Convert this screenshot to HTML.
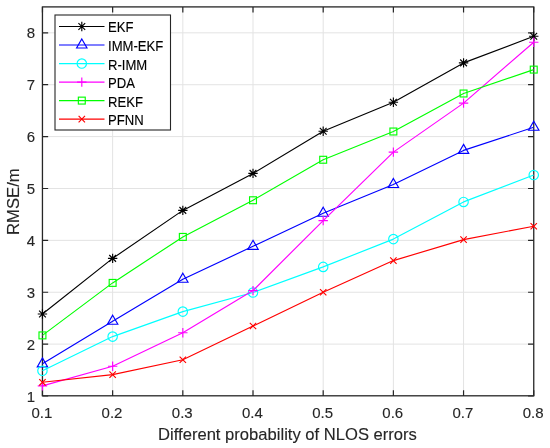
<!DOCTYPE html>
<html><head><meta charset="utf-8"><title>RMSE vs NLOS probability</title>
<style>
html,body{margin:0;padding:0;background:#fff;}
body{width:550px;height:448px;overflow:hidden;}
svg{display:block;}
text{font-family:"Liberation Sans",Arial,Helvetica,sans-serif;fill:#262626;stroke:#262626;stroke-width:0.12px;}
</style></head><body>
<svg width="550" height="448" viewBox="0 0 550 448">
<rect x="0" y="0" width="550" height="448" fill="#fff"/>

<path d="M112.64,6.9V396.0M182.82,6.9V396.0M253.01,6.9V396.0M323.19,6.9V396.0M393.38,6.9V396.0M463.56,6.9V396.0M42.45,344.12H533.75M42.45,292.24H533.75M42.45,240.36H533.75M42.45,188.48H533.75M42.45,136.60H533.75M42.45,84.72H533.75M42.45,32.84H533.75" stroke="#e3e3e3" stroke-width="1" fill="none"/>
<path d="M42.45,396.0V390.3M42.45,6.9V12.600000000000001M112.64,396.0V390.3M112.64,6.9V12.600000000000001M182.82,396.0V390.3M182.82,6.9V12.600000000000001M253.01,396.0V390.3M253.01,6.9V12.600000000000001M323.19,396.0V390.3M323.19,6.9V12.600000000000001M393.38,396.0V390.3M393.38,6.9V12.600000000000001M463.56,396.0V390.3M463.56,6.9V12.600000000000001M533.75,396.0V390.3M533.75,6.9V12.600000000000001M42.45,396.00H48.150000000000006M533.75,396.00H528.05M42.45,344.12H48.150000000000006M533.75,344.12H528.05M42.45,292.24H48.150000000000006M533.75,292.24H528.05M42.45,240.36H48.150000000000006M533.75,240.36H528.05M42.45,188.48H48.150000000000006M533.75,188.48H528.05M42.45,136.60H48.150000000000006M533.75,136.60H528.05M42.45,84.72H48.150000000000006M533.75,84.72H528.05M42.45,32.84H48.150000000000006M533.75,32.84H528.05" stroke="#262626" stroke-width="1.2" fill="none"/>
<rect x="42.45" y="6.9" width="491.3" height="388.90000000000003" stroke="#262626" stroke-width="1.3" fill="none"/>
<polyline points="42.45,314.00 112.64,258.40 182.82,210.40 253.01,173.40 323.19,131.25 393.38,102.25 463.56,62.90 533.75,36.25" stroke="#000000" stroke-width="1.15" fill="none" stroke-linejoin="round"/>
<path d="M37.75,314.00H47.15M42.45,309.30V318.70M39.07,310.62L45.83,317.38M39.07,317.38L45.83,310.62" stroke="#000000" stroke-width="1.15" fill="none"/>
<path d="M107.94,258.40H117.34M112.64,253.70V263.10M109.25,255.02L116.02,261.78M109.25,261.78L116.02,255.02" stroke="#000000" stroke-width="1.15" fill="none"/>
<path d="M178.12,210.40H187.52M182.82,205.70V215.10M179.44,207.02L186.21,213.78M179.44,213.78L186.21,207.02" stroke="#000000" stroke-width="1.15" fill="none"/>
<path d="M248.31,173.40H257.71M253.01,168.70V178.10M249.62,170.02L256.39,176.78M249.62,176.78L256.39,170.02" stroke="#000000" stroke-width="1.15" fill="none"/>
<path d="M318.49,131.25H327.89M323.19,126.55V135.95M319.81,127.87L326.58,134.63M319.81,134.63L326.58,127.87" stroke="#000000" stroke-width="1.15" fill="none"/>
<path d="M388.68,102.25H398.08M393.38,97.55V106.95M389.99,98.87L396.76,105.63M389.99,105.63L396.76,98.87" stroke="#000000" stroke-width="1.15" fill="none"/>
<path d="M458.86,62.90H468.26M463.56,58.20V67.60M460.18,59.52L466.95,66.28M460.18,66.28L466.95,59.52" stroke="#000000" stroke-width="1.15" fill="none"/>
<path d="M529.05,36.25H538.45M533.75,31.55V40.95M530.37,32.87L537.13,39.63M530.37,39.63L537.13,32.87" stroke="#000000" stroke-width="1.15" fill="none"/>
<polyline points="42.45,363.85 112.64,321.20 182.82,279.20 253.01,246.30 323.19,213.20 393.38,184.50 463.56,150.40 533.75,127.25" stroke="#0000ff" stroke-width="1.15" fill="none" stroke-linejoin="round"/>
<path d="M42.45,357.85L47.65,366.85L37.25,366.85Z" stroke="#0000ff" stroke-width="1.15" fill="none" stroke-linejoin="miter"/>
<path d="M112.64,315.20L117.83,324.20L107.44,324.20Z" stroke="#0000ff" stroke-width="1.15" fill="none" stroke-linejoin="miter"/>
<path d="M182.82,273.20L188.02,282.20L177.63,282.20Z" stroke="#0000ff" stroke-width="1.15" fill="none" stroke-linejoin="miter"/>
<path d="M253.01,240.30L258.20,249.30L247.81,249.30Z" stroke="#0000ff" stroke-width="1.15" fill="none" stroke-linejoin="miter"/>
<path d="M323.19,207.20L328.39,216.20L318.00,216.20Z" stroke="#0000ff" stroke-width="1.15" fill="none" stroke-linejoin="miter"/>
<path d="M393.38,178.50L398.57,187.50L388.18,187.50Z" stroke="#0000ff" stroke-width="1.15" fill="none" stroke-linejoin="miter"/>
<path d="M463.56,144.40L468.76,153.40L458.37,153.40Z" stroke="#0000ff" stroke-width="1.15" fill="none" stroke-linejoin="miter"/>
<path d="M533.75,121.25L538.95,130.25L528.55,130.25Z" stroke="#0000ff" stroke-width="1.15" fill="none" stroke-linejoin="miter"/>
<polyline points="42.45,370.80 112.64,336.60 182.82,311.60 253.01,292.50 323.19,266.90 393.38,239.10 463.56,201.90 533.75,175.00" stroke="#00ffff" stroke-width="1.15" fill="none" stroke-linejoin="round"/>
<circle cx="42.45" cy="370.80" r="4.7" stroke="#00ffff" stroke-width="1.15" fill="none"/>
<circle cx="112.64" cy="336.60" r="4.7" stroke="#00ffff" stroke-width="1.15" fill="none"/>
<circle cx="182.82" cy="311.60" r="4.7" stroke="#00ffff" stroke-width="1.15" fill="none"/>
<circle cx="253.01" cy="292.50" r="4.7" stroke="#00ffff" stroke-width="1.15" fill="none"/>
<circle cx="323.19" cy="266.90" r="4.7" stroke="#00ffff" stroke-width="1.15" fill="none"/>
<circle cx="393.38" cy="239.10" r="4.7" stroke="#00ffff" stroke-width="1.15" fill="none"/>
<circle cx="463.56" cy="201.90" r="4.7" stroke="#00ffff" stroke-width="1.15" fill="none"/>
<circle cx="533.75" cy="175.00" r="4.7" stroke="#00ffff" stroke-width="1.15" fill="none"/>
<polyline points="42.45,385.90 112.64,366.25 182.82,332.75 253.01,290.60 323.19,220.60 393.38,152.10 463.56,103.10 533.75,42.25" stroke="#ff00ff" stroke-width="1.15" fill="none" stroke-linejoin="round"/>
<path d="M37.75,385.90H47.15M42.45,381.20V390.60" stroke="#ff00ff" stroke-width="1.15" fill="none"/>
<path d="M107.94,366.25H117.34M112.64,361.55V370.95" stroke="#ff00ff" stroke-width="1.15" fill="none"/>
<path d="M178.12,332.75H187.52M182.82,328.05V337.45" stroke="#ff00ff" stroke-width="1.15" fill="none"/>
<path d="M248.31,290.60H257.71M253.01,285.90V295.30" stroke="#ff00ff" stroke-width="1.15" fill="none"/>
<path d="M318.49,220.60H327.89M323.19,215.90V225.30" stroke="#ff00ff" stroke-width="1.15" fill="none"/>
<path d="M388.68,152.10H398.08M393.38,147.40V156.80" stroke="#ff00ff" stroke-width="1.15" fill="none"/>
<path d="M458.86,103.10H468.26M463.56,98.40V107.80" stroke="#ff00ff" stroke-width="1.15" fill="none"/>
<path d="M529.05,42.25H538.45M533.75,37.55V46.95" stroke="#ff00ff" stroke-width="1.15" fill="none"/>
<polyline points="42.45,335.40 112.64,282.90 182.82,236.90 253.01,200.25 323.19,159.75 393.38,131.50 463.56,93.50 533.75,69.60" stroke="#00ff00" stroke-width="1.15" fill="none" stroke-linejoin="round"/>
<rect x="39.00" y="331.95" width="6.90" height="6.90" stroke="#00ff00" stroke-width="1.15" fill="none"/>
<rect x="109.19" y="279.45" width="6.90" height="6.90" stroke="#00ff00" stroke-width="1.15" fill="none"/>
<rect x="179.37" y="233.45" width="6.90" height="6.90" stroke="#00ff00" stroke-width="1.15" fill="none"/>
<rect x="249.56" y="196.80" width="6.90" height="6.90" stroke="#00ff00" stroke-width="1.15" fill="none"/>
<rect x="319.74" y="156.30" width="6.90" height="6.90" stroke="#00ff00" stroke-width="1.15" fill="none"/>
<rect x="389.93" y="128.05" width="6.90" height="6.90" stroke="#00ff00" stroke-width="1.15" fill="none"/>
<rect x="460.11" y="90.05" width="6.90" height="6.90" stroke="#00ff00" stroke-width="1.15" fill="none"/>
<rect x="530.30" y="66.15" width="6.90" height="6.90" stroke="#00ff00" stroke-width="1.15" fill="none"/>
<polyline points="42.45,382.30 112.64,374.60 182.82,359.75 253.01,326.00 323.19,292.25 393.38,260.60 463.56,239.60 533.75,226.25" stroke="#ff0000" stroke-width="1.15" fill="none" stroke-linejoin="round"/>
<path d="M39.25,379.10L45.65,385.50M39.25,385.50L45.65,379.10" stroke="#ff0000" stroke-width="1.15" fill="none"/>
<path d="M109.44,371.40L115.84,377.80M109.44,377.80L115.84,371.40" stroke="#ff0000" stroke-width="1.15" fill="none"/>
<path d="M179.62,356.55L186.02,362.95M179.62,362.95L186.02,356.55" stroke="#ff0000" stroke-width="1.15" fill="none"/>
<path d="M249.81,322.80L256.21,329.20M249.81,329.20L256.21,322.80" stroke="#ff0000" stroke-width="1.15" fill="none"/>
<path d="M319.99,289.05L326.39,295.45M319.99,295.45L326.39,289.05" stroke="#ff0000" stroke-width="1.15" fill="none"/>
<path d="M390.18,257.40L396.58,263.80M390.18,263.80L396.58,257.40" stroke="#ff0000" stroke-width="1.15" fill="none"/>
<path d="M460.36,236.40L466.76,242.80M460.36,242.80L466.76,236.40" stroke="#ff0000" stroke-width="1.15" fill="none"/>
<path d="M530.55,223.05L536.95,229.45M530.55,229.45L536.95,223.05" stroke="#ff0000" stroke-width="1.15" fill="none"/>
<text transform="translate(41.85,417.8) scale(1,1.02)" font-size="15" text-anchor="middle">0.1</text>
<text transform="translate(112.04,417.8) scale(1,1.02)" font-size="15" text-anchor="middle">0.2</text>
<text transform="translate(182.22,417.8) scale(1,1.02)" font-size="15" text-anchor="middle">0.3</text>
<text transform="translate(252.41,417.8) scale(1,1.02)" font-size="15" text-anchor="middle">0.4</text>
<text transform="translate(322.59,417.8) scale(1,1.02)" font-size="15" text-anchor="middle">0.5</text>
<text transform="translate(392.78,417.8) scale(1,1.02)" font-size="15" text-anchor="middle">0.6</text>
<text transform="translate(462.96,417.8) scale(1,1.02)" font-size="15" text-anchor="middle">0.7</text>
<text transform="translate(533.15,417.8) scale(1,1.02)" font-size="15" text-anchor="middle">0.8</text>
<text transform="translate(35,401.60) scale(1,1.02)" font-size="15" text-anchor="end">1</text>
<text transform="translate(35,349.72) scale(1,1.02)" font-size="15" text-anchor="end">2</text>
<text transform="translate(35,297.84) scale(1,1.02)" font-size="15" text-anchor="end">3</text>
<text transform="translate(35,245.96) scale(1,1.02)" font-size="15" text-anchor="end">4</text>
<text transform="translate(35,194.08) scale(1,1.02)" font-size="15" text-anchor="end">5</text>
<text transform="translate(35,142.20) scale(1,1.02)" font-size="15" text-anchor="end">6</text>
<text transform="translate(35,90.32) scale(1,1.02)" font-size="15" text-anchor="end">7</text>
<text transform="translate(35,38.44) scale(1,1.02)" font-size="15" text-anchor="end">8</text>
<text x="287.5" y="440" font-size="16.6" text-anchor="middle">Different probability of NLOS errors</text>
<text transform="translate(18.6,201.6) rotate(-90)" font-size="16.7" text-anchor="middle">RMSE/m</text>
<rect x="55" y="15" width="115.5" height="115" fill="#fff" stroke="#262626" stroke-width="1.1"/>
<path d="M59,26.5H104.5" stroke="#000000" stroke-width="1.15"/>
<path d="M77.10,26.50H86.50M81.80,21.80V31.20M78.42,23.12L85.18,29.88M78.42,29.88L85.18,23.12" stroke="#000000" stroke-width="1.15" fill="none"/>
<text transform="translate(108,32.40) scale(1,1.07)" font-size="13.1" style="fill:#000;stroke:#000">EKF</text>
<path d="M59,45.0H104.5" stroke="#0000ff" stroke-width="1.15"/>
<path d="M81.80,39.00L87.00,48.00L76.60,48.00Z" stroke="#0000ff" stroke-width="1.15" fill="none" stroke-linejoin="miter"/>
<text transform="translate(108,50.90) scale(1,1.07)" font-size="13.1" style="fill:#000;stroke:#000">IMM-EKF</text>
<path d="M59,63.6H104.5" stroke="#00ffff" stroke-width="1.15"/>
<circle cx="81.80" cy="63.60" r="4.7" stroke="#00ffff" stroke-width="1.15" fill="none"/>
<text transform="translate(108,69.50) scale(1,1.07)" font-size="13.1" style="fill:#000;stroke:#000">R-IMM</text>
<path d="M59,82.1H104.5" stroke="#ff00ff" stroke-width="1.15"/>
<path d="M77.10,82.10H86.50M81.80,77.40V86.80" stroke="#ff00ff" stroke-width="1.15" fill="none"/>
<text transform="translate(108,88.00) scale(1,1.07)" font-size="13.1" style="fill:#000;stroke:#000">PDA</text>
<path d="M59,100.6H104.5" stroke="#00ff00" stroke-width="1.15"/>
<rect x="78.35" y="97.15" width="6.90" height="6.90" stroke="#00ff00" stroke-width="1.15" fill="none"/>
<text transform="translate(108,106.50) scale(1,1.07)" font-size="13.1" style="fill:#000;stroke:#000">REKF</text>
<path d="M59,119.1H104.5" stroke="#ff0000" stroke-width="1.15"/>
<path d="M78.60,115.90L85.00,122.30M78.60,122.30L85.00,115.90" stroke="#ff0000" stroke-width="1.15" fill="none"/>
<text transform="translate(108,125.00) scale(1,1.07)" font-size="13.1" style="fill:#000;stroke:#000">PFNN</text>
</svg>
</body></html>
